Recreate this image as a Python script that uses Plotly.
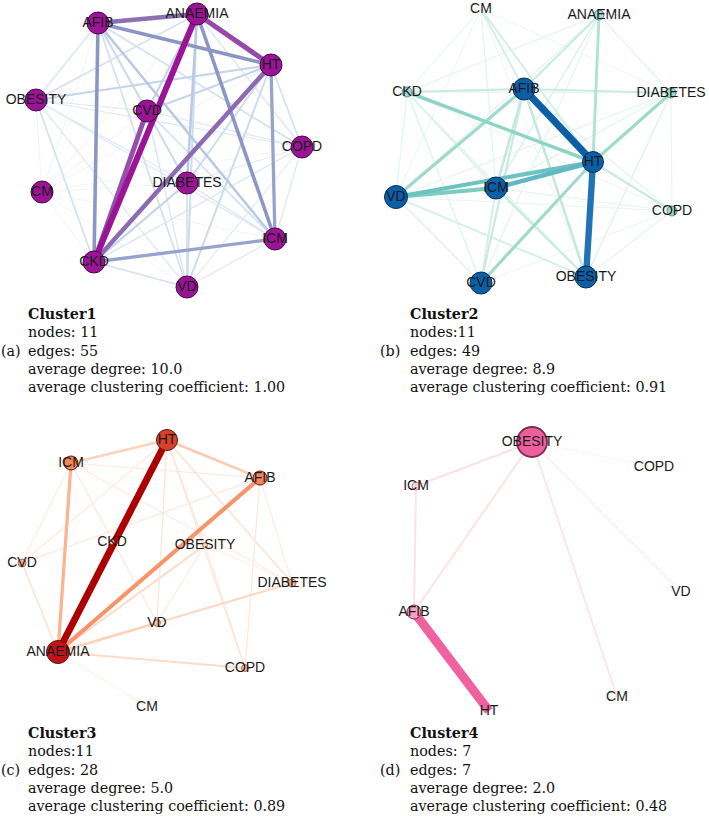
import plotly.graph_objects as go
from plotly.colors import sample_colorscale

W, H = 709, 816

# ---------------- Panel (a) : Cluster1 ----------------
A_NODES = ["AFIB", "ANAEMIA", "HT", "OBESITY", "CVD", "COPD", "CM", "DIABETES", "ICM", "CKD", "VD"]
A_X = [98, 197, 271, 36, 147, 302, 42, 187, 275, 94, 187]
A_Y = [23, 14, 65, 100, 111, 147, 192, 183, 239, 262, 287]
A_SIZE = [22, 22, 22, 22, 22, 22, 22, 22, 22, 22, 22]
A_LEVEL = [1, 1, 1, 1, 1, 1, 1, 1, 1, 1, 1]
A_EDGES = [
    ("AFIB", "ANAEMIA", .70), ("AFIB", "HT", .55), ("AFIB", "OBESITY", .15), ("AFIB", "CVD", .20),
    ("AFIB", "COPD", .20), ("AFIB", "CM", .05), ("AFIB", "DIABETES", .25), ("AFIB", "ICM", .35),
    ("AFIB", "CKD", .55), ("AFIB", "VD", .20),
    ("ANAEMIA", "HT", .82), ("ANAEMIA", "OBESITY", .20), ("ANAEMIA", "CVD", .30), ("ANAEMIA", "COPD", .15),
    ("ANAEMIA", "CM", .05), ("ANAEMIA", "DIABETES", .35), ("ANAEMIA", "ICM", .55), ("ANAEMIA", "CKD", 1.0),
    ("ANAEMIA", "VD", .25),
    ("HT", "OBESITY", .30), ("HT", "CVD", .30), ("HT", "COPD", .20), ("HT", "CM", .05),
    ("HT", "DIABETES", .25), ("HT", "ICM", .50), ("HT", "CKD", .72), ("HT", "VD", .25),
    ("OBESITY", "CVD", .12), ("OBESITY", "COPD", .12), ("OBESITY", "CM", .05), ("OBESITY", "DIABETES", .12),
    ("OBESITY", "ICM", .12), ("OBESITY", "CKD", .20), ("OBESITY", "VD", .12),
    ("CVD", "COPD", .12), ("CVD", "CM", .05), ("CVD", "DIABETES", .15), ("CVD", "ICM", .20),
    ("CVD", "CKD", .80), ("CVD", "VD", .15),
    ("COPD", "CM", .04), ("COPD", "DIABETES", .10), ("COPD", "ICM", .12), ("COPD", "CKD", .15), ("COPD", "VD", .10),
    ("CM", "DIABETES", .04), ("CM", "ICM", .04), ("CM", "CKD", .05), ("CM", "VD", .04),
    ("DIABETES", "ICM", .15), ("DIABETES", "CKD", .30), ("DIABETES", "VD", .20),
    ("ICM", "CKD", .50), ("ICM", "VD", .12),
    ("CKD", "VD", .20),
]
A_TEXT = ["Cluster1", "nodes: 11", "edges: 55", "average degree: 10.0", "average clustering coefficient: 1.00"]

# ---------------- Panel (b) : Cluster2 ----------------
B_NODES = ["CM", "ANAEMIA", "CKD", "AFIB", "DIABETES", "HT", "ICM", "VD", "COPD", "CVD", "OBESITY"]
B_X = [481, 599, 407, 524, 671, 593, 496, 396, 672, 481, 586]
B_Y = [9, 15, 92, 89, 93, 162, 188, 197, 211, 283, 277]
B_SIZE = [0, 10, 10, 22, 10, 21, 22, 23, 10, 22, 22]
B_LEVEL = [0, .4, .4, 1, .4, 1, 1, 1, .4, 1, 1]
B_EDGES = [
    ("CM", "AFIB", .20), ("CM", "HT", .20), ("CM", "ICM", .10), ("CM", "CKD", .08), ("CM", "VD", .06),
    ("CM", "OBESITY", .06), ("CM", "DIABETES", .06),
    ("ANAEMIA", "AFIB", .25), ("ANAEMIA", "HT", .35), ("ANAEMIA", "CKD", .10), ("ANAEMIA", "DIABETES", .10),
    ("ANAEMIA", "ICM", .15), ("ANAEMIA", "VD", .10), ("ANAEMIA", "CVD", .10), ("ANAEMIA", "OBESITY", .10),
    ("CKD", "AFIB", .25), ("CKD", "HT", .45), ("CKD", "ICM", .15), ("CKD", "VD", .10), ("CKD", "CVD", .12),
    ("CKD", "OBESITY", .12), ("CKD", "DIABETES", .08), ("CKD", "COPD", .06),
    ("AFIB", "DIABETES", .25), ("AFIB", "HT", 1.0), ("AFIB", "ICM", .30), ("AFIB", "VD", .40),
    ("AFIB", "CVD", .25), ("AFIB", "OBESITY", .30), ("AFIB", "COPD", .10),
    ("DIABETES", "HT", .40), ("DIABETES", "ICM", .10), ("DIABETES", "VD", .10), ("DIABETES", "OBESITY", .12),
    ("DIABETES", "COPD", .08),
    ("HT", "ICM", .60), ("HT", "VD", .55), ("HT", "COPD", .25), ("HT", "CVD", .40), ("HT", "OBESITY", .90),
    ("ICM", "VD", .50), ("ICM", "CVD", .20), ("ICM", "OBESITY", .25), ("ICM", "COPD", .10),
    ("VD", "COPD", .08), ("VD", "CVD", .12), ("VD", "OBESITY", .20),
    ("COPD", "OBESITY", .10), ("COPD", "CVD", .06),
]
B_TEXT = ["Cluster2", "nodes:11", "edges: 49", "average degree: 8.9", "average clustering coefficient: 0.91"]

# ---------------- Panel (c) : Cluster3 ----------------
C_NODES = ["HT", "ICM", "AFIB", "CKD", "OBESITY", "CVD", "DIABETES", "VD", "ANAEMIA", "COPD", "CM"]
C_X = [167, 71, 260, 112, 205, 22, 292, 157, 58, 245, 147]
C_Y = [440, 463, 478, 542, 545, 563, 583, 623, 652, 668, 707]
C_SIZE = [21, 14, 14, 5, 5, 8, 8, 7, 23, 7, 0]
C_LEVEL = [.8, .62, .62, .3, .3, .42, .42, .38, .9, .38, 0]
C_EDGES = [
    ("HT", "ANAEMIA", 1.0), ("HT", "CKD", .30), ("CKD", "ANAEMIA", .30), ("AFIB", "ANAEMIA", .55),
    ("ICM", "ANAEMIA", .42), ("HT", "ICM", .30), ("HT", "AFIB", .33), ("ANAEMIA", "VD", .30),
    ("ANAEMIA", "DIABETES", .25), ("ANAEMIA", "COPD", .22), ("ANAEMIA", "OBESITY", .22), ("ANAEMIA", "CVD", .15),
    ("ANAEMIA", "CM", .06), ("HT", "VD", .12), ("HT", "COPD", .12), ("HT", "DIABETES", .15),
    ("HT", "OBESITY", .10), ("ICM", "CVD", .08), ("ICM", "VD", .10), ("ICM", "AFIB", .08),
    ("ICM", "DIABETES", .08), ("AFIB", "CVD", .10), ("AFIB", "COPD", .10), ("AFIB", "DIABETES", .08),
    ("OBESITY", "VD", .10), ("OBESITY", "COPD", .08), ("CVD", "HT", .08), ("OBESITY", "DIABETES", .06),
]
C_TEXT = ["Cluster3", "nodes:11", "edges: 28", "average degree: 5.0", "average clustering coefficient: 0.89"]

# ---------------- Panel (d) : Cluster4 ----------------
D_NODES = ["OBESITY", "COPD", "ICM", "VD", "AFIB", "CM", "HT"]
D_X = [532, 654, 416, 681, 414, 617, 489]
D_Y = [442, 467, 486, 592, 612, 697, 711]
D_SIZE = [30, 0, 8, 0, 14, 0, 0]
D_LEVEL = [.85, 0, .3, 0, .55, 0, 0]
D_EDGES = [
    ("AFIB", "HT", 1.0), ("OBESITY", "ICM", .16), ("ICM", "AFIB", .16), ("OBESITY", "AFIB", .16),
    ("OBESITY", "CM", .14), ("OBESITY", "VD", .08), ("OBESITY", "COPD", .04),
]
D_TEXT = ["Cluster4", "nodes: 7", "edges: 7", "average degree: 2.0", "average clustering coefficient: 0.48"]

# ---------------- styles ----------------
SCALE_A = [[0, "#f2f6fb"], [0.3, "#c6d6ea"], [0.55, "#8c96c6"], [0.72, "#8c6bb1"], [0.85, "#9a3fa6"], [1, "#9c1496"]]
SCALE_B = [[0, "#f4fbf8"], [0.3, "#c3e8dc"], [0.5, "#7ccdbf"], [0.7, "#45a5c9"], [0.85, "#2a7fb9"], [1, "#0b5fa6"]]
SCALE_C = [[0, "#fff3ec"], [0.3, "#fdd3bb"], [0.5, "#fc9d77"], [0.62, "#f4845a"], [0.8, "#d9412b"], [0.9, "#c0141a"], [1, "#ad0000"]]
SCALE_D = [[0, "#fff4f5"], [0.3, "#fbd3d6"], [0.55, "#f5a3bf"], [0.85, "#ee5f9e"], [1, "#f0619f"]]

PANELS = [
    dict(nodes=A_NODES, x=A_X, y=A_Y, size=A_SIZE, level=A_LEVEL, edges=A_EDGES, text=A_TEXT, tag="(a)",
         scale=SCALE_A, maxw=6.0, outline="#4a0a48", tx=27, tagx=0, ty=314),
    dict(nodes=B_NODES, x=B_X, y=B_Y, size=B_SIZE, level=B_LEVEL, edges=B_EDGES, text=B_TEXT, tag="(b)",
         scale=SCALE_B, maxw=7.0, outline="#0b2f55", tx=409, tagx=379, ty=314),
    dict(nodes=C_NODES, x=C_X, y=C_Y, size=C_SIZE, level=C_LEVEL, edges=C_EDGES, text=C_TEXT, tag="(c)",
         scale=SCALE_C, maxw=7.0, outline="#5a1a10", tx=27, tagx=0, ty=733),
    dict(nodes=D_NODES, x=D_X, y=D_Y, size=D_SIZE, level=D_LEVEL, edges=D_EDGES, text=D_TEXT, tag="(d)",
         scale=SCALE_D, maxw=9.0, outline="#7a2e50", tx=409, tagx=379, ty=733),
]

fig = go.Figure()
annotations = []
SERIF = "DejaVu Serif, serif"
SANS = "Liberation Sans, Arial, sans-serif"
LINE_GAP = 18.3

for p in PANELS:
    pos = {n: (x, y) for n, x, y in zip(p["nodes"], p["x"], p["y"])}
    for a, b, w in sorted(p["edges"], key=lambda e: e[2]):
        col = sample_colorscale(p["scale"], [w])[0]
        fig.add_trace(go.Scatter(
            x=[pos[a][0], pos[b][0]], y=[pos[a][1], pos[b][1]], mode="lines",
            line=dict(color=col, width=0.6 + (p["maxw"] - 0.6) * w),
            hoverinfo="skip", showlegend=False))
    node_cols = sample_colorscale(p["scale"], p["level"])
    line_w = [1.8 if s >= 25 else (1.0 if s >= 12 else 0.5) for s in p["size"]]
    fig.add_trace(go.Scatter(
        x=p["x"], y=p["y"], mode="markers",
        marker=dict(size=p["size"], color=node_cols, opacity=1,
                    line=dict(color=p["outline"], width=line_w)),
        hoverinfo="skip", showlegend=False))
    fig.add_trace(go.Scatter(
        x=p["x"], y=p["y"], mode="text", text=p["nodes"], textposition="middle center",
        textfont=dict(family=SANS, size=14, color="#1a1a1a"),
        hoverinfo="skip", showlegend=False))
    for i, line in enumerate(p["text"]):
        annotations.append(dict(
            x=p["tx"], y=p["ty"] + i * LINE_GAP, xref="x", yref="y", xanchor="left", yanchor="middle",
            text=("<b>%s</b>" % line) if i == 0 else line, showarrow=False, borderpad=0,
            font=dict(family=SERIF, size=14.3, color="#111111")))
    annotations.append(dict(
        x=p["tagx"], y=p["ty"] + 2 * LINE_GAP, xref="x", yref="y", xanchor="left", yanchor="middle",
        text=p["tag"], showarrow=False, borderpad=0, font=dict(family=SERIF, size=14.3, color="#111111")))

fig.update_layout(
    width=W, height=H, margin=dict(l=0, r=0, t=0, b=0),
    paper_bgcolor="white", plot_bgcolor="white",
    xaxis=dict(range=[0, W], visible=False, fixedrange=True),
    yaxis=dict(range=[H, 0], visible=False, fixedrange=True),
    annotations=annotations, showlegend=False,
)
fig.write_html("out.html", config={"displayModeBar": False},
               post_script="document.body.style.margin='0';document.body.style.overflow='hidden';")
